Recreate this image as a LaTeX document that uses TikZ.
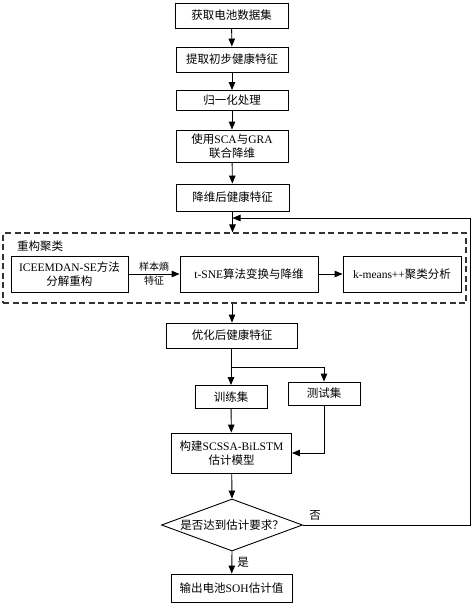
\documentclass[tikz,border=0pt]{standalone}
\usepackage{fontspec}
\setmainfont{Liberation Serif}
\newfontfamily\cjk{Noto Sans CJK SC}
\usetikzlibrary{arrows.meta,shapes.geometric}
\newcommand\zh[1]{{\cjk #1}}
\tikzset{
  box/.style={draw=black, line width=0.9pt, fill=white, inner sep=0pt, align=center,
              font=\fontsize{11.5}{14.5}\selectfont},
  arr/.style={line width=0.9pt, -{Triangle[length=8pt,width=6.5pt]}},
  ln/.style={line width=0.9pt},
  lbl/.style={font=\fontsize{11.5}{14}\selectfont, inner sep=0pt},
  smalllbl/.style={font=\fontsize{10}{12}\selectfont, inner sep=0pt, align=center}
}
\begin{document}
\begin{tikzpicture}[x=1pt,y=-1pt]
\useasboundingbox (0,0) rectangle (474,606);
\node[box, minimum width=113pt, minimum height=25pt] (b1) at (231.5,15.5) {\zh{获取电池数据集}};
\node[box, minimum width=112pt, minimum height=25pt] (b2) at (232,59.5) {\zh{提取初步健康特征}};
\node[box, minimum width=112pt, minimum height=20pt] (b3) at (232,100.5) {\zh{归一化处理}};
\node[box, minimum width=112pt, minimum height=32pt] (b4) at (232,146) {\zh{使用}SCA\zh{与}GRA\\[-1pt]\zh{联合降维}};
\node[box, minimum width=113pt, minimum height=27pt] (b5) at (232.5,197.5) {\zh{降维后健康特征}};
\node[draw=black!80, line width=1.1pt, dash pattern=on 6pt off 3.5pt, minimum width=463pt, minimum height=70pt, inner sep=0pt] (grp) at (234.5,268) {};
\node[lbl, anchor=west] (gl) at (17,246) {\zh{重构聚类}};
\node[box, minimum width=117pt, minimum height=36pt] (ice) at (69.5,274) {ICEEMDAN-SE\zh{方法}\\[-1pt]\zh{分解重构}};
\node[box, minimum width=138pt, minimum height=36pt] (tsne) at (249,274) {t-SNE\zh{算法变换与降维}};
\node[box, minimum width=118pt, minimum height=36pt] (km) at (402,274) {k-means++\zh{聚类分析}};
\node[box, minimum width=131pt, minimum height=25pt] (opt) at (232,335.5) {\zh{优化后健康特征}};
\node[box, minimum width=72pt, minimum height=23pt] (tr) at (231,397) {\zh{训练集}};
\node[box, minimum width=72pt, minimum height=23pt] (te) at (324,393.5) {\zh{测试集}};
\node[box, minimum width=120pt, minimum height=40pt] (mdl) at (231.5,453) {\zh{构建}SCSSA-BiLSTM\\[-1pt]\zh{估计模型}};
\node[box, shape=diamond, aspect=2.7, minimum width=141pt, minimum height=52pt] (dec) at (232,525) {\zh{是否达到估计要求？}};
\node[box, minimum width=121pt, minimum height=28pt] (out) at (231.5,588) {\zh{输出电池}SOH\zh{估计值}};

\coordinate (fbR) at (470,525);
\coordinate (fbT) at (470,218);
\coordinate (fbE) at (232.5,218);
\coordinate (jn) at (231,367);
\coordinate (jr) at (324,367);
\coordinate (tm) at (324,453);

\draw[arr] (b1) -- (b2);
\draw[arr] (b2) -- (b3);
\draw[arr] (b3) -- (b4);
\draw[arr] (b4) -- (b5);
\draw[arr] (b5.south) -- (b5.south |- grp.north);
\draw[arr] (dec.east) -- (fbR) -- (fbT) -- (fbE);
\draw[arr] (ice) -- node[smalllbl, above=2pt] {\zh{样本熵}} node[smalllbl, below=2pt] {\zh{特征}} (tsne);
\draw[arr] (tsne) -- (km);
\draw[arr] (opt.north |- grp.south) -- (opt.north);
\draw[ln] (opt.south -| jn) -- (jn);
\draw[arr] (jn) -- (tr.north);
\draw[arr] (jn) -- (jr) -- (te.north);
\draw[arr] (tr) -- (mdl);
\draw[arr] (te.south) -- (tm) -- (mdl.east |- tm);
\draw[arr] (mdl) -- (dec.north);
\draw[arr] (dec.south) -- node[lbl, right=5pt] {\zh{是}} (out);
\node[lbl] (no) at (315,515) {\zh{否}};
\end{tikzpicture}
\end{document}
